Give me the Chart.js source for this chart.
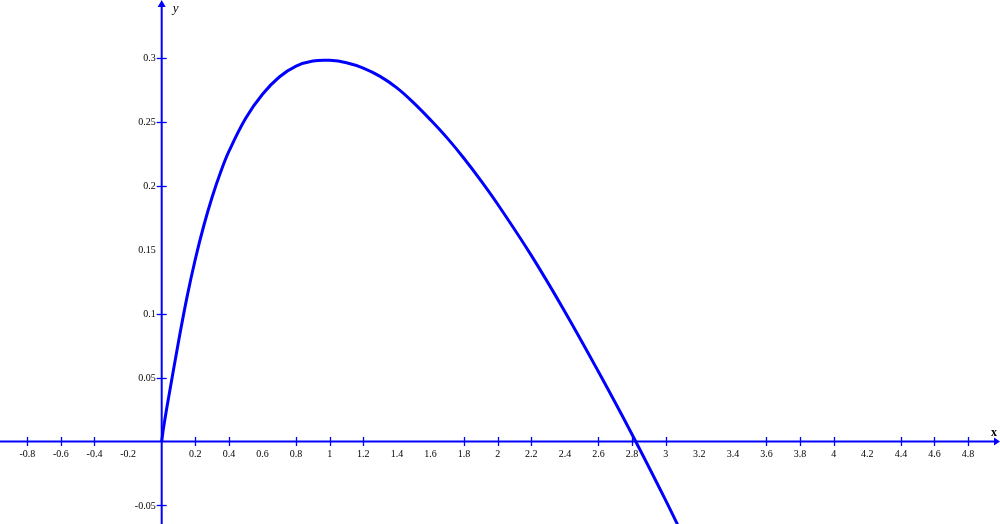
<!DOCTYPE html>
<html>
<head>
<meta charset="utf-8">
<script src="https://cdn.jsdelivr.net/npm/chart.js@4/dist/chart.umd.min.js"></script>
<style>
html,body{margin:0;padding:0;background:#fff;}
#wrap{width:1000px;height:524px;}
</style>
</head>
<body>
<div id="wrap"><canvas id="c" width="1000" height="524"></canvas></div>
<script>
// Curve points
const curveX = [0, 0.01, 0.03, 0.05, 0.1, 0.15, 0.2, 0.25, 0.3, 0.35, 0.4, 0.5, 0.6, 0.7, 0.8, 0.9, 1.0, 1.1, 1.2, 1.3, 1.4, 1.5, 1.6, 1.7, 1.8, 1.9, 2.0, 2.2, 2.4, 2.6, 2.8, 3.0, 3.1];
const curveY = [0, 0.010, 0.026, 0.041, 0.078, 0.1125, 0.1425, 0.1685, 0.191, 0.2103, 0.2268, 0.2528, 0.2715, 0.2850, 0.2935, 0.2975, 0.2980, 0.2962, 0.2920, 0.2855, 0.2765, 0.2648, 0.2515, 0.2372, 0.2213, 0.2040, 0.1855, 0.1455, 0.1015, 0.0545, 0.0055, -0.046, -0.073];

// Axis ranges and tick labels
const xRange = [-0.9625, 4.99];
const yRange = [-0.0645, 0.3452];
const xTickValues = [-0.8,-0.6,-0.4,-0.2,0.2,0.4,0.6,0.8,1,1.2,1.4,1.6,1.8,2,2.2,2.4,2.6,2.8,3,3.2,3.4,3.6,3.8,4,4.2,4.4,4.6,4.8];
const xTickLabels = ["-0.8","-0.6","-0.4","-0.2","0.2","0.4","0.6","0.8","1","1.2","1.4","1.6","1.8","2","2.2","2.4","2.6","2.8","3","3.2","3.4","3.6","3.8","4","4.2","4.4","4.6","4.8"];
const xTickMarks = [-0.8,-0.6,-0.4,0.2,0.4,0.8,1,1.2,1.8,2,2.2,2.6,2.8,3,3.6,3.8,4,4.4,4.6,4.8];
const yTickValues = [-0.05, 0.05, 0.1, 0.15, 0.2, 0.25, 0.3];
const yTickLabels = ["-0.05","0.05","0.1","0.15","0.2","0.25","0.3"];
const yTickMarks = [-0.05, 0.05, 0.1, 0.2, 0.25, 0.3];
const xAxisTitle = "x";
const yAxisTitle = "y";

const points = curveX.map((x, i) => ({x: x, y: curveY[i]}));

const BLUE = '#0000ff';

const axesPlugin = {
  id: 'centerAxes',
  beforeDatasetsDraw(chart) {
    const ctx = chart.ctx;
    const xs = chart.scales.x, ys = chart.scales.y;
    const x0 = xs.getPixelForValue(0);
    const y0 = ys.getPixelForValue(0);
    const left = chart.chartArea.left, right = chart.chartArea.right;
    const top = chart.chartArea.top, bottom = chart.chartArea.bottom;
    ctx.save();
    ctx.strokeStyle = BLUE;
    ctx.fillStyle = BLUE;
    ctx.lineWidth = 2;
    ctx.beginPath();
    ctx.moveTo(left, y0);
    ctx.lineTo(right - 4, y0);
    ctx.stroke();
    ctx.beginPath();
    ctx.moveTo(x0, bottom);
    ctx.lineTo(x0, top + 4);
    ctx.stroke();
    ctx.beginPath();
    ctx.moveTo(right, y0);
    ctx.lineTo(right - 6, y0 - 4);
    ctx.lineTo(right - 6, y0 + 4);
    ctx.closePath();
    ctx.fill();
    ctx.beginPath();
    ctx.moveTo(x0, top);
    ctx.lineTo(x0 - 4, top + 7);
    ctx.lineTo(x0 + 4, top + 7);
    ctx.closePath();
    ctx.fill();
    ctx.lineWidth = 1.3;
    xTickMarks.forEach(v => {
      const px = Math.round(xs.getPixelForValue(v)) + 0.5;
      ctx.beginPath();
      ctx.moveTo(px, y0 - 4.5);
      ctx.lineTo(px, y0 + 4.5);
      ctx.stroke();
    });
    yTickMarks.forEach(v => {
      const py = Math.round(ys.getPixelForValue(v)) + 0.5;
      ctx.beginPath();
      ctx.moveTo(x0 - 5, py);
      ctx.lineTo(x0 + 5, py);
      ctx.stroke();
    });
    ctx.fillStyle = '#000';
    ctx.font = '10px "Liberation Serif", "Times New Roman", serif';
    ctx.textAlign = 'center';
    ctx.textBaseline = 'alphabetic';
    xTickValues.forEach((v, i) => {
      ctx.fillText(xTickLabels[i], xs.getPixelForValue(v), y0 + 15);
    });
    ctx.textAlign = 'right';
    yTickValues.forEach((v, i) => {
      ctx.fillText(yTickLabels[i], x0 - 6, ys.getPixelForValue(v) + 3.5);
    });
    ctx.textAlign = 'center';
    ctx.font = 'bold 12px "Liberation Serif", serif';
    ctx.fillText(xAxisTitle, right - 6, y0 - 6);
    ctx.font = 'italic 13px "Liberation Serif", serif';
    ctx.fillText(yAxisTitle, x0 + 14, top + 12);
    ctx.restore();
  }
};

new Chart(document.getElementById('c'), {
  type: 'scatter',
  data: {
    datasets: [{
      data: points,
      showLine: true,
      borderColor: BLUE,
      borderWidth: 3,
      pointRadius: 0,
      fill: false,
      tension: 0.4
    }]
  },
  options: {
    responsive: false,
    animation: false,
    layout: {padding: 0},
    plugins: {legend: {display: false}, tooltip: {enabled: false}},
    scales: {
      x: {type: 'linear', display: false, min: xRange[0], max: xRange[1]},
      y: {type: 'linear', display: false, min: yRange[0], max: yRange[1]}
    }
  },
  plugins: [axesPlugin]
});
</script>
</body>
</html>
